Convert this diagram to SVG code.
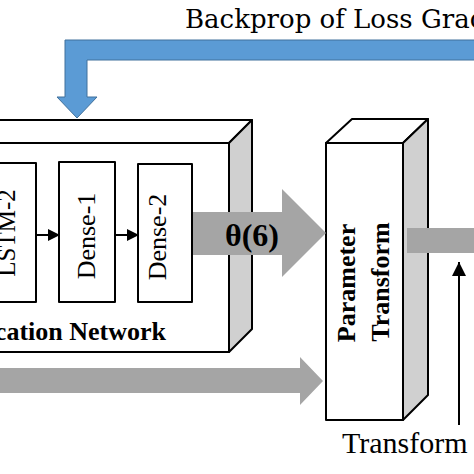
<svg xmlns="http://www.w3.org/2000/svg" width="474" height="474" viewBox="0 0 474 474">
<style>
.box{fill:#fff;stroke:#000;stroke-width:2;stroke-linejoin:round}
.side{fill:#d0d0d0;stroke:#000;stroke-width:2;stroke-linejoin:round}
.gray{fill:#a5a5a5}
.lbl{font-family:"Liberation Serif","Times New Roman",serif;fill:#000}
.bold{font-weight:bold}
.ln{stroke:#000;stroke-width:2;fill:none}
</style>
<defs>
<marker id="ah" markerWidth="12" markerHeight="12" refX="11" refY="6" orient="auto" markerUnits="userSpaceOnUse">
<path d="M0,0 L12,6 L0,12 Z" fill="#000"/>
</marker>
<marker id="ah2" markerWidth="16" markerHeight="14" refX="14" refY="7" orient="auto" markerUnits="userSpaceOnUse">
<path d="M0,0 L14,7 L0,14 Z" fill="#000"/>
</marker>
</defs>
<rect width="474" height="474" fill="#fff"/>

<text class="lbl" x="185" y="28" style="font-family:'DejaVu Serif',serif;font-size:26px">Backprop of Loss Grad</text>

<g id="adaptation-network">
<polygon class="box" points="-10,143 229,143 252,120 -10,120"/>
<rect class="box" x="-10" y="143" width="239" height="209"/>
<polygon class="side" points="229,143 252,120 252,329 229,352"/>
<text class="lbl bold" x="166" y="340" text-anchor="end" style="font-size:26px">cation Network</text>
</g>

<g id="lstm-2">
<rect class="box" x="-10" y="163" width="46" height="139"/>
<text class="lbl" transform="translate(15,233) rotate(-90)" text-anchor="middle" style="font-size:25px">LSTM-2</text>
</g>
<g id="dense-1">
<rect class="box" x="59" y="162" width="56" height="140"/>
<text class="lbl" transform="translate(95,236) rotate(-90)" text-anchor="middle" style="font-size:26px">Dense-1</text>
</g>
<g id="dense-2">
<rect class="box" x="138" y="164" width="54" height="138"/>
<text class="lbl" transform="translate(166,237) rotate(-90)" text-anchor="middle" style="font-size:26px">Dense-2</text>
</g>

<g id="parameter-transform">
<polygon class="box" points="326,143 352,119 428,119 403,143"/>
<rect class="box" x="326" y="143" width="77" height="277"/>
<polygon class="side" points="403,143 428,119 428,395 403,420"/>
<text class="lbl bold" transform="translate(355,283) rotate(-90)" text-anchor="middle" style="font-size:26px">Parameter</text>
<text class="lbl bold" transform="translate(389,282) rotate(-90)" text-anchor="middle" style="font-size:26px">Transform</text>
</g>

<g id="connectors">
<polygon points="480,40 65,40 65,97 57,97 77,118 97,97 87,97 87,60 480,60" fill="#5b9bd5" stroke="#41719c" stroke-width="1"/>
<line class="ln" x1="36" y1="235" x2="59" y2="235" marker-end="url(#ah)"/>
<line class="ln" x1="115" y1="235" x2="138" y2="235" marker-end="url(#ah)"/>
<polygon class="gray" points="193,212 282,212 282,189 326,233 282,277 282,255 193,255"/>
<text class="lbl bold" x="252" y="246" text-anchor="middle" style="font-size:32px">θ(6)</text>
<polygon class="gray" points="-5,368 300,368 300,357 323,381 300,405 300,393 -5,393"/>
<rect class="gray" x="407" y="228" width="70" height="25"/>
<line class="ln" x1="459" y1="425" x2="459" y2="262" marker-end="url(#ah2)"/>
</g>

<text class="lbl" x="342" y="453" style="font-size:30px">Transform</text>
</svg>
